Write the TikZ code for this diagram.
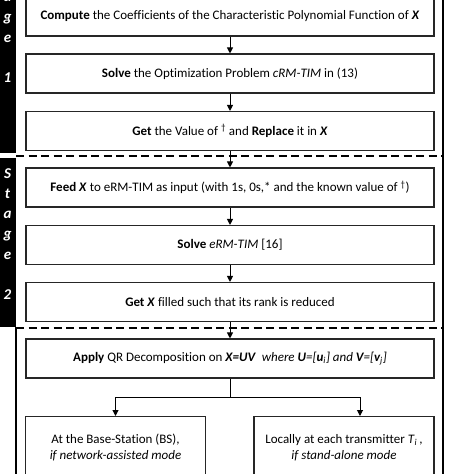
\documentclass[tikz,border=0pt]{standalone}
\usepackage{fontspec}
\setmainfont{Carlito}[Ligatures=NoCommon]
\usetikzlibrary{arrows.meta}
\tikzset{
  stepbox/.style={draw=black!85, line width=1.1pt, minimum width=408pt, minimum height=39pt,
    inner sep=2pt, align=center, font=\fontsize{13}{16}\selectfont},
  modebox/.style={stepbox, minimum width=180pt, minimum height=62pt, anchor=north},
  flow/.style={line width=1pt, -{Triangle[length=6pt,width=6pt]}},
  stagedash/.style={line width=1.3pt, dash pattern=on 8pt off 4.5pt},
  stagetext/.style={text=white, align=center, inner sep=0pt, font=\fontsize{15}{20.2}\selectfont\bfseries\itshape}
}
\begin{document}
\begin{tikzpicture}[x=1pt,y=-1pt]
   \useasboundingbox (0,0) rectangle (474,474);
   \clip (0,0) rectangle (474,474);

   % stage bars and frame
   \fill[black] (0,-60) rectangle (16,152.5);
   \fill[black] (0,157.5) rectangle (16,327);
   \node[stagetext] (s1) at (7.5,17) {S\\t\\a\\g\\e\\ \\1};
   \node[stagetext] (s2) at (7.5,234) {S\\t\\a\\g\\e\\ \\2};
   \draw[line width=1.3pt] (16,327) -- (16,480);
   \draw[line width=1.3pt] (443,-10) -- (443,480);
   \draw[stagedash] (16,156) -- (443,156);
   \draw[stagedash] (16,328) -- (443,328);

   % stage 1
   \node[stepbox] (b1) at (230,16.5) {\textbf{Compute} the Coefficients of the Characteristic Polynomial Function of \textbf{\textit{X}}};
   \node[stepbox] (b2) at (230,73.5) {\textbf{Solve} the Optimization Problem \textit{cRM-TIM} in (13)};
   \node[stepbox] (b3) at (230,131) {\textbf{Get} the Value of \textsuperscript{†} and \textbf{Replace} it in \textbf{\textit{X}}};

   % stage 2
   \node[stepbox] (b4) at (230,187.5) {\textbf{Feed \textit{X}} to eRM-TIM as input (with 1s, 0s,* and the known value of \textsuperscript{†})};
   \node[stepbox] (b5) at (230,245) {\textbf{Solve} \textit{eRM-TIM} [16]};
   \node[stepbox] (b6) at (230,302) {\textbf{Get \textit{X}} filled such that its rank is reduced};

   % decomposition
   \node[stepbox] (b7) at (230,358.5) {\textbf{Apply} QR Decomposition on \textbf{\textit{X=UV}}\ \ \textit{where \textbf{U}=[\textbf{u}\textsubscript{i}] and \textbf{V}=[\textbf{v}\textsubscript{j}]}};
   \node[modebox] (b8) at (115.5,416) {At the Base-Station (BS),\\\textit{if network-assisted mode}};
   \node[modebox] (b9) at (344,416) {Locally at each transmitter \textit{T}\textsubscript{\textit{i}}\,,\\\textit{if stand-alone mode}};

   \draw[flow] (b1) -- (b2);
   \draw[flow] (b2) -- (b3);
   \draw[flow] (b3) -- (b4);
   \draw[flow] (b4) -- (b5);
   \draw[flow] (b5) -- (b6);
   \draw[flow] (b6) -- (b7);

   \coordinate (split) at (230,397);
   \coordinate (to9) at (360,416);
   \draw[line width=1pt] (b7) -- (split);
   \draw[flow] (split) -| (b8.north);
   \draw[flow] (split) -| (to9);
 \end{tikzpicture}
\end{document}
